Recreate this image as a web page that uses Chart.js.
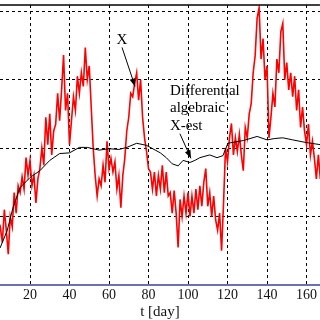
<!DOCTYPE html>
<html>
<head>
<meta charset="utf-8">
<script src="https://cdn.jsdelivr.net/npm/chart.js@4/dist/chart.umd.min.js"></script>
<style>
  html, body { margin: 0; padding: 0; background: #fff; }
</style>
</head>
<body>
<canvas id="chart" width="320" height="320"></canvas>
<script>
const days = [4, 5, 6, 7, 8, 9, 10, 11, 12, 13, 14, 15, 16, 17, 18, 19, 20, 21, 22, 23,
  24, 25, 26, 27, 28, 29, 30, 31, 32, 33, 34, 35, 36, 37, 38, 39, 40, 41, 42, 43,
  44, 45, 46, 47, 48, 49, 50, 51, 52, 53, 54, 55, 56, 57, 58, 59, 60, 61, 62, 63,
  64, 65, 66, 67, 68, 69, 70, 71, 72, 73, 74, 75, 76, 77, 78, 79, 80, 81, 82, 83,
  84, 85, 86, 87, 88, 89, 90, 91, 92, 93, 94, 95, 96, 97, 98, 99, 100, 101, 102, 103,
  104, 105, 106, 107, 108, 109, 110, 111, 112, 113, 114, 115, 116, 117, 118, 119, 120, 121, 122, 123,
  124, 125, 126, 127, 128, 129, 130, 131, 132, 133, 134, 135, 136, 137, 138, 139, 140, 141, 142, 143,
  144, 145, 146, 147, 148, 149, 150, 151, 152, 153, 154, 155, 156, 157, 158, 159, 160, 161, 162, 163,
  164, 165, 166, 167];
const xValues = [0.75, 0.84, 0.62, 1.10, 0.80, 0.45, 1.00, 0.85, 1.35, 1.05, 1.45, 1.35, 1.58, 1.40, 1.86, 1.60, 1.82, 1.45, 1.60, 1.20,
  1.55, 1.70, 2.00, 1.75, 2.45, 2.05, 2.50, 1.90, 2.25, 2.35, 2.80, 2.40, 2.85, 3.36, 2.55, 2.80, 2.05, 2.40, 2.75, 2.55,
  3.05, 2.80, 3.10, 2.90, 3.47, 3.00, 3.20, 2.60, 2.00, 1.60, 1.30, 1.55, 1.45, 1.75, 1.50, 2.10, 1.70, 1.85, 1.65, 1.80,
  1.40, 1.60, 1.13, 1.60, 1.85, 2.25, 2.45, 2.80, 2.75, 2.95, 3.10, 2.70, 3.00, 2.45, 2.15, 1.95, 1.70, 1.65, 1.40, 1.65,
  1.30, 1.60, 1.40, 1.75, 1.35, 1.65, 1.30, 1.35, 1.05, 1.38, 1.05, 0.55, 1.25, 1.00, 1.30, 1.05, 1.35, 1.00, 1.30, 1.05,
  1.40, 1.10, 1.45, 1.15, 1.50, 1.70, 1.15, 1.35, 1.00, 1.30, 0.95, 0.80, 1.05, 0.50, 1.20, 2.00, 1.80, 2.15, 2.36, 1.90,
  2.15, 1.95, 2.20, 1.90, 1.67, 2.30, 2.15, 2.50, 2.65, 3.10, 3.35, 3.90, 4.05, 3.30, 3.60, 3.00, 3.20, 2.15, 2.45, 2.80,
  2.60, 3.30, 3.10, 3.70, 3.82, 3.00, 3.25, 2.85, 3.10, 2.75, 3.05, 2.55, 2.85, 2.30, 2.60, 2.25, 2.05, 2.35, 1.90, 2.10,
  1.85, 1.55, 1.90, 1.55];

// differential algebraic estimate X-est (black, smooth)
const estDays = [4, 4.8, 8.4, 11.4, 14.9, 20, 25, 30, 35, 40, 45, 49, 55, 60, 65, 69, 74, 79, 86, 89,
  92, 95, 97.5, 101, 103.5, 106, 111, 114.7, 117.7, 120.2, 124, 128, 135, 140, 144, 148, 153, 160, 167];
const estValues = [0.48, 0.54, 0.79, 1.13, 1.42, 1.57, 1.67, 1.82, 1.92, 1.93, 2.01, 2.01, 1.97, 1.99, 1.98, 2.01, 2.07, 2.04, 1.93, 1.86,
  1.77, 1.74, 1.82, 1.79, 1.82, 1.86, 1.90, 1.86, 1.89, 2.07, 2.09, 2.11, 2.17, 2.12, 2.14, 2.15, 2.12, 2.08, 2.05];

const xTicks = [20, 40, 60, 80, 100, 120, 140, 160];
const yGrid = [1, 2, 3, 4];

const serif = '"Liberation Serif", "DejaVu Serif", serif';

// frame line on top + text labels with arrows
const notes = {
  id: 'notes',
  afterDatasetsDraw(chart) {
    const { ctx, chartArea, scales: { x, y } } = chart;
    ctx.save();
    ctx.strokeStyle = '#000';
    ctx.lineWidth = 1.5;
    ctx.beginPath();
    ctx.moveTo(chartArea.left, chartArea.top);
    ctx.lineTo(chartArea.right, chartArea.top);
    ctx.stroke();

    ctx.fillStyle = '#000';
    ctx.font = '15px ' + serif;
    ctx.textAlign = 'center';
    ctx.textBaseline = 'middle';
    ctx.fillText('X', x.getPixelForValue(66.6), y.getPixelForValue(3.58));

    ctx.textAlign = 'left';
    ctx.textBaseline = 'alphabetic';
    const left = x.getPixelForValue(90.9);
    ctx.fillText('Differential', left, y.getPixelForValue(2.77));
    ctx.fillText('algebraic', left, y.getPixelForValue(2.53));
    ctx.fillText('X-est', left, y.getPixelForValue(2.26));

    const arrow = (t1, v1, t2, v2) => {
      const x1 = x.getPixelForValue(t1), y1 = y.getPixelForValue(v1);
      const x2 = x.getPixelForValue(t2), y2 = y.getPixelForValue(v2);
      const a = Math.atan2(y2 - y1, x2 - x1);
      ctx.lineWidth = 1;
      ctx.beginPath();
      ctx.moveTo(x1, y1);
      ctx.lineTo(x2, y2);
      ctx.stroke();
      ctx.beginPath();
      ctx.moveTo(x2, y2);
      ctx.lineTo(x2 - 8 * Math.cos(a) + 3 * Math.sin(a), y2 - 8 * Math.sin(a) - 3 * Math.cos(a));
      ctx.lineTo(x2 - 8 * Math.cos(a) - 3 * Math.sin(a), y2 - 8 * Math.sin(a) + 3 * Math.cos(a));
      ctx.closePath();
      ctx.fill();
    };
    arrow(66.6, 3.47, 73.2, 2.90);
    arrow(95.9, 2.21, 101.5, 1.85);
    ctx.restore();
  }
};

new Chart(document.getElementById('chart'), {
  type: 'line',
  data: {
    datasets: [
      {
        label: 'X-est',
        data: estDays.map((d, i) => ({ x: d, y: estValues[i] })),
        borderColor: '#000',
        borderWidth: 1,
        pointRadius: 0,
        order: 1
      },
      {
        label: 'X',
        data: days.map((d, i) => ({ x: d, y: xValues[i] })),
        borderColor: '#ff0000',
        borderWidth: 1.6,
        pointRadius: 0,
        order: 2
      }
    ]
  },
  options: {
    responsive: false,
    animation: false,
    devicePixelRatio: 1,
    layout: { padding: { top: 5, left: 0, right: 0, bottom: 0 } },
    plugins: { legend: { display: false }, tooltip: { enabled: false } },
    scales: {
      x: {
        type: 'linear',
        min: 4.81,
        max: 166.8,
        afterBuildTicks: s => { s.ticks = xTicks.map(v => ({ value: v })); },
        grid: { color: '#000', lineWidth: 1, drawTicks: false },
        border: { display: true, color: '#7070b0', width: 2, dash: [3, 3] },
        ticks: {
          padding: 3,
          color: '#111',
          maxRotation: 0,
          autoSkip: false,
          font: { family: serif, size: 14, lineHeight: 1 }
        },
        title: {
          display: true,
          text: 't [day]',
          color: '#111',
          padding: { top: 0, bottom: 0 },
          font: { family: serif, size: 15, lineHeight: 1 }
        }
      },
      y: {
        min: 0,
        max: 4.09,
        afterBuildTicks: s => { s.ticks = yGrid.map(v => ({ value: v })); },
        grid: { color: '#000', lineWidth: 1, drawTicks: false },
        border: { display: false, dash: [3, 3] },
        ticks: { display: false }
      }
    }
  },
  plugins: [notes]
});
</script>
</body>
</html>
